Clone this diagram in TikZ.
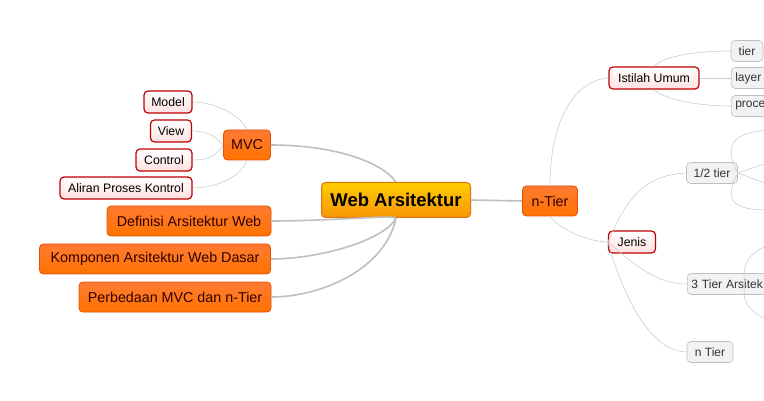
\documentclass[tikz,border=0pt]{standalone}
\usepackage{fontspec}
\setmainfont{Liberation Sans}
\begin{document}
\begin{tikzpicture}[x=1pt,y=-1pt,
  root/.style={draw=black!10!orange!70!brown,line width=1pt,rounded corners=4pt,top color=yellow!60!orange,bottom color=orange!80!yellow!90!brown,font=\bfseries\fontsize{18.5}{20}\selectfont,minimum height=35pt,inner sep=0pt},
  main/.style={draw=orange!70!red!90!black,line width=0.8pt,rounded corners=4pt,top color=orange!70!red!80,bottom color=orange!90!red,text=black!70!red!60!black,font=\fontsize{14.3}{16}\selectfont,minimum height=30pt,inner sep=0pt},
  sub/.style={draw=red!75!black,line width=1.2pt,rounded corners=4pt,top color=white,bottom color=red!12,font=\fontsize{12.3}{14}\selectfont,minimum height=22pt,inner sep=0pt},
  leaf/.style={draw=black!25,line width=0.6pt,rounded corners=4pt,fill=black!5,text=black!80,font=\fontsize{12}{14}\selectfont,minimum height=21pt,inner sep=0pt},
  thick link/.style={draw=black!25,line width=1.6pt},
  thin link/.style={draw=black!20,line width=0.6pt}]
\useasboundingbox (0,0) rectangle (764,401);
\clip (0,0) rectangle (764,401);
\node[root,minimum width=149pt] (root) at (396,200) {Web Arsitektur};
\node[main,minimum width=55pt] (nt) at (550,201) {n-Tier};
\node[main,minimum width=47pt] (mvc) at (247,145) {MVC};
\node[main,minimum width=164pt] (def) at (189,221) {Definisi Arsitektur Web};
\node[main,minimum width=231pt] (kom) at (155,259) {Komponen Arsitektur Web Dasar};
\node[main,minimum width=192pt] (per) at (175,297) {Perbedaan MVC dan n-Tier};
\node[sub,minimum width=48pt] (model) at (168,102) {Model};
\node[sub,minimum width=41pt] (view) at (171,131) {View};
\node[sub,minimum width=56pt] (ctrl) at (164,160) {Control};
\node[sub,minimum width=132pt] (alir) at (126,188) {Aliran Proses Kontrol};
\node[sub,minimum width=90pt] (ist) at (654,78) {Istilah Umum};
\node[sub,minimum width=47pt] (jen) at (632,242) {Jenis};
\node[leaf,minimum width=32pt] (tier) at (747,51) {tier};
\node[leaf,minimum width=60pt,anchor=west,text width=52pt,align=left] (layer) at (731,78) {layer};
\node[leaf,minimum width=60pt,anchor=west,text width=52pt,align=left] (proc) at (731,106) {proce};
\node[leaf,minimum width=51pt] (half) at (712,173) {1/2 tier};
\node[leaf,minimum width=110pt,anchor=west,text width=102pt,align=left] (three) at (687,284) {3 Tier Arsitek};
\node[leaf,minimum width=46pt] (ntr) at (710,352) {n Tier};
\coordinate (h1) at (770,130);
\coordinate (h2) at (770,162);
\coordinate (h3) at (770,185);
\coordinate (h4) at (770,210);
\coordinate (t1) at (770,245);
\coordinate (t2) at (770,320);
\coordinate (tm) at (745,284);
\draw[thick link] (root.north) .. controls (380,160) and (330,145) .. (mvc.east);
\draw[thick link] (root.south) .. controls (392,215) and (330,221) .. (def.east);
\draw[thick link] (root.south) .. controls (385,240) and (320,259) .. (kom.east);
\draw[thick link] (root.south) .. controls (385,270) and (320,297) .. (per.east);
\draw[thick link] (root.east) -- (nt.west);
\draw[thin link] (mvc.north) .. controls (240,115) and (215,102) .. (model.east);
\draw[thin link] (mvc.west) .. controls (215,135) and (205,131) .. (view.east);
\draw[thin link] (mvc.west) .. controls (215,158) and (205,160) .. (ctrl.east);
\draw[thin link] (mvc.south) .. controls (240,178) and (215,188) .. (alir.east);
\draw[thin link] (nt.north) .. controls (550,120) and (575,80) .. (ist.west);
\draw[thin link] (nt.south) .. controls (560,230) and (590,242) .. (jen.west);
\draw[thin link] (ist.north) .. controls (665,55) and (700,51) .. (tier.west);
\draw[thin link] (ist.east) -- (layer.west);
\draw[thin link] (ist.south) .. controls (665,100) and (700,106) .. (proc.west);
\draw[thin link] (jen.west) .. controls (630,190) and (650,175) .. (half.west);
\draw[thin link] (jen.west) .. controls (640,270) and (660,284) .. (three.west);
\draw[thin link] (jen.west) .. controls (630,320) and (660,352) .. (ntr.west);
\draw[thin link] (half.east) .. controls (720,140) and (740,132) .. (h1);
\draw[thin link] (half.east) -- (h2);
\draw[thin link] (half.east) -- (h3);
\draw[thin link] (half.east) .. controls (720,205) and (740,210) .. (h4);
\draw[thin link] (tm) .. controls (740,260) and (755,250) .. (t1);
\draw[thin link] (tm) .. controls (740,305) and (755,315) .. (t2);
\end{tikzpicture}
\end{document}
